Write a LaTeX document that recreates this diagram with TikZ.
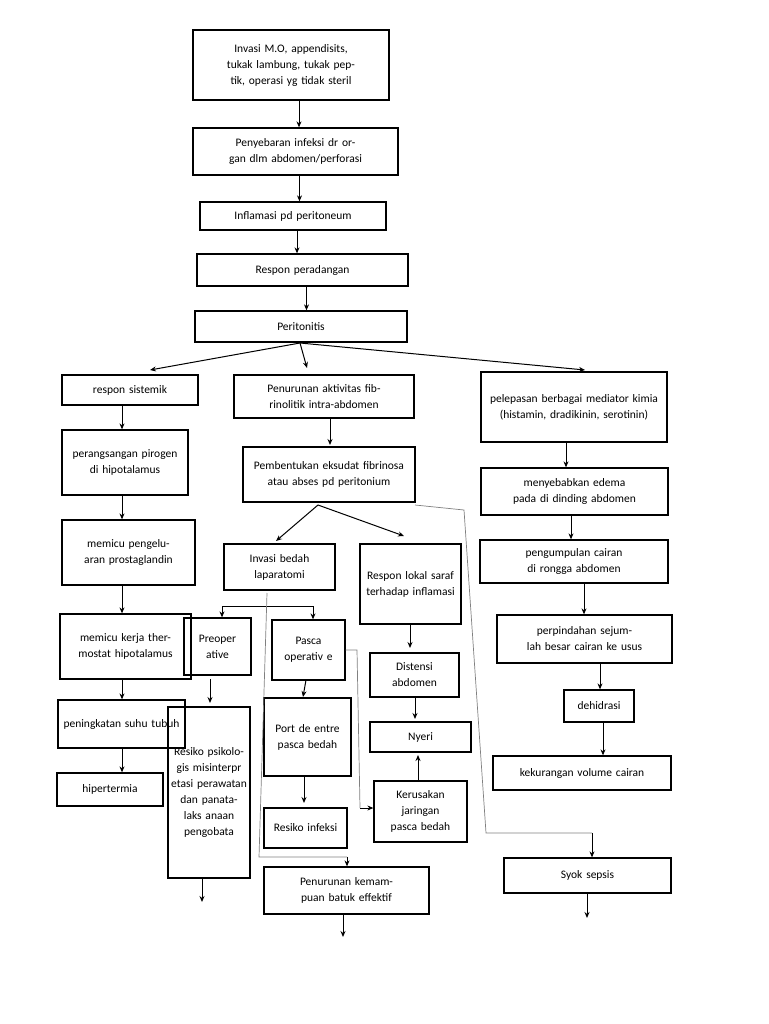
\documentclass[tikz,border=0pt]{standalone}
\usepackage{fontspec}
\setmainfont{Carlito}
\usetikzlibrary{arrows.meta}
\begin{document}
\begin{tikzpicture}[x=1pt,y=-1pt,
  bx/.style={draw,line width=1.3pt,align=center,inner sep=2pt,font=\fontsize{11.5}{16}\selectfont},
  ar/.style={-{Stealth[length=6pt,width=5pt]},line width=1pt},
  gl/.style={draw=gray,line width=0.7pt}]
\useasboundingbox (0,0) rectangle (768,1024);
\newcommand{\bb}[6]{\node[bx,minimum width={#4-#2},minimum height={#5-#3},text width={#4-#2-6}] (#1) at ({(#2+#4)/2},{(#3+#5)/2}) {#6};}
\bb{a1}{193}{30}{389}{100}{Invasi M.O, appendisits, tukak lambung, tukak peptik, operasi yg tidak steril}
\bb{a2}{193}{128}{398}{175}{Penyebaran infeksi dr organ dlm abdomen/perforasi}
\bb{a3}{200}{202}{386}{230}{Inflamasi pd peritoneum}
\bb{a4}{197}{254}{408}{286}{Respon peradangan}
\bb{a5}{195}{311}{407}{342}{Peritonitis}
\bb{l1}{62}{375}{198}{405}{\raggedright respon sistemik}
\bb{l2}{62}{430}{188}{495}{\raggedright perangsangan pirogen di hipotalamus}
\bb{l3}{62}{520}{195}{585}{\raggedright memicu pengeluaran prostaglandin}
\bb{l4}{60}{614}{191}{679}{\raggedright memicu kerja thermostat hipotalamus}
\bb{l5}{58}{700}{185}{748}{\raggedright peningkatan suhu tubuh}
\bb{l6}{57}{773}{163}{806}{\raggedright hipertermia}
\bb{m1}{234}{375}{414}{418}{Penurunan aktivitas fibrinolitik intra-abdomen}
\bb{m2}{243}{447}{415}{502}{Pembentukan eksudat fibrinosa atau abses pd peritonium}
\bb{m3}{224}{544}{335}{590}{Invasi bedah laparatomi}
\bb{m4}{360}{544}{461}{624}{Respon lokal saraf terhadap inflamasi}
\bb{p1}{184}{618}{251}{675}{Preoper ative}
\bb{p2}{272}{620}{345}{680}{Pasca operativ e}
\bb{p3}{264}{698}{351}{776}{Port de entre pasca bedah}
\bb{p4}{264}{808}{347}{848}{Resiko infeksi}
\bb{p5}{168}{707}{250}{878}{Resiko psikologis misinterpr etasi perawatan dan panatalaks anaan pengobata}
\bb{d1}{370}{653}{459}{697}{Distensi abdomen}
\bb{d2}{370}{722}{471}{752}{Nyeri}
\bb{d3}{374}{781}{467}{842}{Kerusakan jaringan pasca bedah}
\bb{pk}{264}{867}{429}{914}{Penurunan kemampuan batuk effektif}
\bb{r1}{481}{372}{667}{442}{pelepasan berbagai mediator kimia (histamin, dradikinin, serotinin)}
\bb{r2}{481}{468}{668}{515}{menyebabkan edema pada di dinding abdomen}
\bb{r3}{480}{540}{668}{583}{pengumpulan cairan di rongga abdomen}
\bb{r4}{497}{615}{672}{663}{perpindahan sejumlah besar cairan ke usus}
\bb{r5}{564}{690}{634}{722}{dehidrasi}
\bb{r6}{493}{756}{671}{790}{kekurangan volume cairan}
\bb{r7}{504}{858}{671}{893}{Syok sepsis}
% main chain
\draw[ar] (a1.south) ++(8,0) -- ([xshift=8pt]a1.south |- a2.north);
\foreach \u/\v in {a2/a3,a3/a4,a4/a5}{\draw[ar] ([xshift=4pt]\u.south) -- ([xshift=4pt]\u.south |- \v.north);}
\coordinate (s) at (300,343);
\draw[ar] (s) -- (150,370);
\draw[ar] (s) -- (307,368);
\draw[ar] (s) -- (585,370);
\foreach \u/\v in {l1/l2,l2/l3,l3/l4,l4/l5,l5/l6}{\draw[ar] (122,0 |- \u.south) -- (122,0 |- \v.north);}
\draw[ar] (330,418) -- (330,445);
\coordinate (t) at (318,505);
\draw[ar] (t) -- (276,541);
\draw[ar] (t) -- (404,536);
\foreach \u/\v/\x in {r1/r2/566,r2/r3/571,r3/r4/584,r4/r5/600,r5/r6/603}{\draw[ar] (\x,0 |- \u.south) -- (\x,0 |- \v.north);}
% preop bracket
\coordinate (br1) at (222,606); \coordinate (br2) at (313,606);
\draw[line width=0.8pt] (br1) -- (br2);
\draw[ar] (br1) -- (br1 |- p1.north);
\draw[ar] (br2) -- (br2 |- p2.north);
\draw[ar] (210,679) -- (210,703);
\draw[ar] (306,680) -- (303,697);
\draw[ar] (304,776) -- (304,803);
\draw[ar] (410,624) -- (410,648);
\draw[ar] (415,697) -- (415,719);
\draw[ar] (418,781) -- (418,755);
\draw[ar] (202,878) -- (202,902);
\draw[ar] (343,914) -- (343,937);
\draw[ar] (587,893) -- (587,918);
% gray lines
\coordinate (g1) at (464,510); \coordinate (g2) at (486,833); \coordinate (g3) at (592,833);
\draw[gl] (415,505) -- (g1) -- (g2) -- (g3);
\draw[ar,line width=0.8pt] (g3) -- (g3 |- r7.north);
\coordinate (h1) at (267,593); \coordinate (h2) at (259,857); \coordinate (h3) at (347,857);
\draw[gl] (h1) -- (h2) -- (h3);
\draw[ar,line width=0.8pt] (h3) -- (h3 |- pk.north);
\coordinate (k1) at (357,650); \coordinate (k2) at (360,808);
\draw[gl] (p2.east |- k1) -- (k1) -- (k2);
\draw[ar,line width=0.8pt] (k2) -- (k2 -| d3.west);
\end{tikzpicture}
\end{document}
